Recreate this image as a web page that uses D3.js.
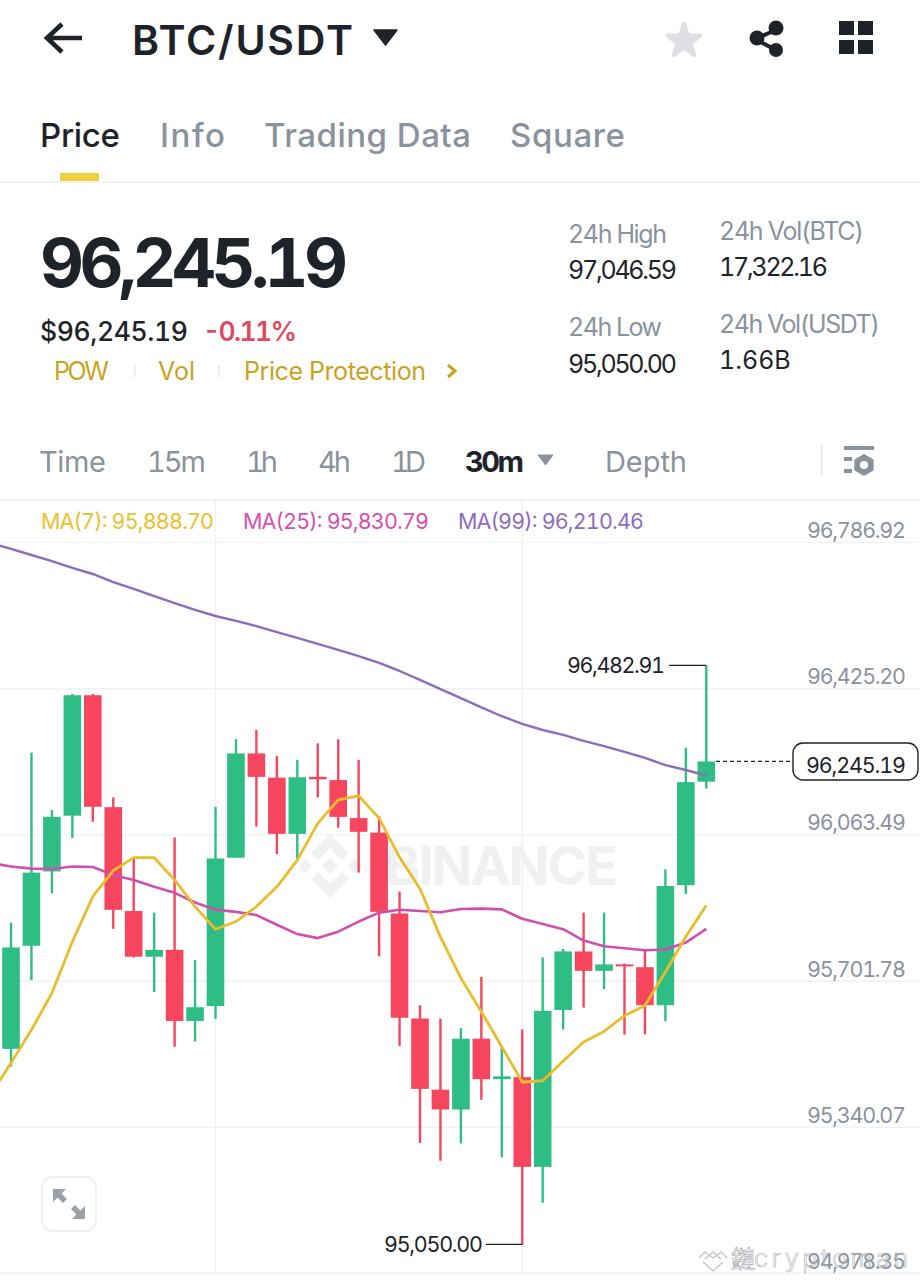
<!DOCTYPE html>
<html><head><meta charset="utf-8"><script src="https://d3js.org/d3.v7.min.js"></script>
<style>html,body{margin:0;padding:0;background:#fff}svg{display:block}text{font-family:Inter,Roboto,sans-serif;font-variant-numeric:tabular-nums}</style></head>
<body><div id="c"></div><script>
const candleIndex=d3.range(0,35);
const opens=[95534,95789,95973,96111,96409,96132,95875,95762,95779,95603,95640,96007,96265,96205,96066,96207,96199,96105,96069,95869,95609,95433,95384,95559,95459,95464,95242,95630,95775,95727,95743,95736,95642,95939,96195];
const highs=[95846,96267,96125,96412,96412,96156,96006,95871,96057,95754,96133,96300,96323,96259,96249,96290,96300,96249,96110,95923,95642,95609,95585,95712,95539,95582,95760,95781,95871,95871,95745,95778,95978,96279,96482.91];
const lows=[95490,95704,95919,96056,96096,95831,95760,95675,95539,95552,95608,96007,96084,96016,96001,96156,96081,95970,95763,95541,95301,95257,95300,95408,95266,95050,95153,95582,95636,95682,95569,95570,95602,95917,96178];
const closes=[95785,95970,96108,96409,96133,95878,95762,95779,95603,95637,96005,96265,96207,96066,96206,96201,96108,96071,95873,95611,95435,95384,95559,95459,95466,95242,95628,95775,95727,95743,95738,95642,95937,96194,96245.19];
const ma7=[95420,95499,95581,95672,95799,95911,95975,96007,96007,95952,95886,95830,95849,95886,95935,96001,96092,96150,96160,96105,96008,95930,95811,95709,95626,95539,95452,95455,95504,95551,95577,95616,95641,95724,95812,95888.70];
const ma25=[95994,95985,95980,95979,95985,95984,95964,95952,95935,95920,95896,95878,95873,95865,95841,95818,95808,95824,95849,95871,95878,95875,95872,95880,95881,95879,95856,95843,95830,95802,95788,95783,95778,95780,95797,95830.79];
const ma99=[96786,96771,96756,96741,96724,96709,96689,96672,96654,96637,96620,96605,96593,96580,96565,96551,96536,96521,96506,96489,96469,96447,96424,96402,96379,96357,96338,96323,96311,96296,96283,96269,96254,96236,96224,96210.46];
const axisTicks=[96786.92,96425.20,96063.49,95701.78,95340.07,94978.35];
const verticalGridIndex=[10,25];
const tabLabels=["Price","Info","Trading Data","Square"];
const intervalLabels=["Time","15m","1h","4h","1D","Depth"];

const tabX=[40,160,264,510],tabW=[80,65,207,115];
const intervalX=[39,147,246,318,391,605],intervalW=[67,59,32,33,35,82];
const W=920,H=1280;
const svg=d3.select("#c").append("svg").attr("width",W).attr("height",H).attr("viewBox",[0,0,W,H]);
const INK="#1e2329",GRAY="#8a929e",LINE="#f0f1f2",GREEN="#2ebd85",RED="#f6465d",GOLD="#c9a21f";
const x=d3.scaleLinear().domain([0,34]).range([11,706.3]);
const y=d3.scaleLinear().domain([96786.92,94978.35]).range([542.5,1273.4]);
const fmt=d3.format(",.2f");
function t(s,px,py,size,fill,weight,anchor){return svg.append("text").text(s).attr("x",px).attr("y",py).attr("font-size",size).attr("fill",fill).attr("font-weight",weight||400).attr("text-anchor",anchor||"start");}

/* header */
svg.append("path").attr("d","M82 38H48M62 24L47 38L62 52").attr("fill","none").attr("stroke",INK).attr("stroke-width",4.6);
t("BTC/USDT",132,55,41,INK,600).attr("textLength",221);
svg.append("path").attr("d","M374 30H397L385.5 45Z").attr("fill",INK).attr("stroke",INK).attr("stroke-width",1.5).attr("stroke-linejoin","round");
svg.append("path").attr("d",d3.symbol(d3.symbolStar,340)()).attr("transform","translate(684,41)").attr("fill","#dcdee1").attr("stroke","#dcdee1").attr("stroke-width",4).attr("stroke-linejoin","round");
svg.append("path").attr("d","M776 30L755 39L776 50").attr("fill","none").attr("stroke",INK).attr("stroke-width",4);
[[776,28,7.5],[757,38,7.5],[776,50,7]].forEach(c=>svg.append("circle").attr("cx",c[0]).attr("cy",c[1]).attr("r",c[2]).attr("fill",INK));
[[839,21],[858,21],[839,40],[858,40]].forEach(c=>svg.append("rect").attr("x",c[0]).attr("y",c[1]).attr("width",15).attr("height",14).attr("fill",INK));

/* tabs */
tabLabels.forEach((d,i)=>t(d,tabX[i],147,33,i?GRAY:INK,500).attr("textLength",tabW[i]));
svg.append("rect").attr("x",60).attr("y",173).attr("width",39).attr("height",8).attr("fill","#f0cf3c");
svg.append("rect").attr("x",0).attr("y",181.5).attr("width",W).attr("height",1.5).attr("fill","#eeeff0");

/* price block */
t("96,245.19",40,287,68,INK,700).attr("textLength",308);
t("$96,245.19",40,341,26.5,INK,500).attr("textLength",148);
t("-0.11%",203,341,26.5,"#dd4a5e",600).attr("textLength",94);
t("POW",54,380,25,GOLD).attr("textLength",55);
t("Vol",158,380,25,GOLD);
t("Price Protection",244,380,25,GOLD).attr("textLength",182);
[134,218].forEach(p=>svg.append("rect").attr("x",p).attr("y",365).attr("width",1.5).attr("height",12).attr("fill","#e8e8e8"));
svg.append("path").attr("d","M448 365L455 371L448 377").attr("fill","none").attr("stroke",GOLD).attr("stroke-width",3);
t("24h High",568,243,25,GRAY).attr("textLength",99);
t("97,046.59",568,279,25,INK).attr("textLength",109);
t("24h Low",568,336,25,GRAY).attr("textLength",94);
t("95,050.00",568,373,25,INK).attr("textLength",109);
t("24h Vol(BTC)",719,240,25,GRAY).attr("textLength",145);
t("17,322.16",719,276,25,INK).attr("textLength",109);
t("24h Vol(USDT)",719,333,25,GRAY).attr("textLength",161);
t("1.66B",719,369,25,INK);

/* interval row */
intervalLabels.forEach((d,i)=>t(d,intervalX[i],472,29,GRAY).attr("textLength",intervalW[i]));
t("30m",465,472,29,INK,700).attr("textLength",59);
svg.append("path").attr("d","M538 455H553L545.5 465Z").attr("fill",GRAY).attr("stroke",GRAY).attr("stroke-linejoin","round");
svg.append("rect").attr("x",821).attr("y",445).attr("width",1.5).attr("height",30).attr("fill","#e8e9ea");
svg.append("rect").attr("x",844).attr("y",446).attr("width",30).attr("height",4).attr("fill",GRAY);
[[844,457],[844,469]].forEach(c=>svg.append("rect").attr("x",c[0]).attr("y",c[1]).attr("width",8).attr("height",4).attr("fill",GRAY));
const hexR=10.5;
svg.append("path").attr("d",d3.line()(d3.range(6).map(i=>[864+hexR*Math.sin(i*Math.PI/3),465+hexR*Math.cos(i*Math.PI/3)]))+"Z").attr("fill",GRAY).attr("stroke",GRAY).attr("stroke-linejoin","round");
svg.append("circle").attr("cx",864).attr("cy",465).attr("r",4).attr("fill","#fff");

/* chart frame */
svg.append("rect").attr("x",0).attr("y",499).attr("width",W).attr("height",1.5).attr("fill","#eeeff0");
const grid=svg.append("g");
grid.selectAll("line.h").data(axisTicks).join("line").attr("class","h").attr("x1",0).attr("x2",W).attr("y1",d=>y(d)).attr("y2",d=>y(d)).attr("stroke",LINE).attr("stroke-width",1.4);
grid.selectAll("line.v").data(verticalGridIndex).join("line").attr("class","v").attr("x1",d=>x(d)).attr("x2",d=>x(d)).attr("y1",500).attr("y2",1273).attr("stroke",LINE).attr("stroke-width",1.4);

/* background watermark */
const wm=svg.append("g").attr("transform","translate(330,866)").attr("fill","#eff0f1");
wm.append("path").attr("d","M0 -32L19 -13L12 -6L0 -18L-12 -6L-19 -13Z M0 32L19 13L12 6L0 18L-12 6L-19 13Z M-25 -7L-18 0L-25 7L-32 0Z M25 -7L32 0L25 7L18 0Z M0 -8L8 0L0 8L-8 0Z");
t("BINANCE",385,885,54,"#eff0f1",700).attr("textLength",233);

/* axis labels */
const axis=d3.axisRight(y).tickValues(axisTicks).tickFormat(fmt).tickSize(0).tickPadding(0);
const ag=svg.append("g").attr("transform","translate(807,-5)").call(axis);
ag.select(".domain").remove();
ag.selectAll("text").attr("font-size",21.5).attr("fill",GRAY).attr("dy",0).attr("textLength",99).style("font-family","Inter,Roboto,sans-serif");

/* legend */
t("MA(7): "+fmt(ma7[ma7.length-1]),41,529,21.5,"#e9c12d").attr("textLength",173);
t("MA(25): "+fmt(ma25[ma25.length-1]),243,529,21.5,"#d64fb0").attr("textLength",186);
t("MA(99): "+fmt(ma99[ma99.length-1]),458,529,21.5,"#8e6cbc").attr("textLength",186);

/* candles */
const rows=candleIndex.map(i=>({i,o:opens[i],h:highs[i],l:lows[i],c:closes[i]}));
const g=svg.append("g");
const col=d=>d.c>=d.o?GREEN:RED;
g.selectAll("line").data(rows).join("line").attr("x1",d=>x(d.i)).attr("x2",d=>x(d.i)).attr("y1",d=>y(d.h)).attr("y2",d=>y(d.l)).attr("stroke",col).attr("stroke-width",2.4);
g.selectAll("rect").data(rows).join("rect").attr("x",d=>x(d.i)-8.8).attr("width",17.6).attr("y",d=>y(Math.max(d.o,d.c))).attr("height",d=>Math.max(2,Math.abs(y(d.o)-y(d.c)))).attr("fill",col);

/* moving averages: each series starts one bar left of the first candle */
const line=d3.line().x((d,i)=>x(i-1)).y(d=>y(d));
svg.append("clipPath").attr("id","cp").append("rect").attr("x",0).attr("y",500).attr("width",W).attr("height",780);
[[ma99,"#8e6cbc",2.4],[ma25,"#cf4fae",2.6],[ma7,"#e8bc2c",2.8]].forEach(s=>svg.append("path").attr("clip-path","url(#cp)").attr("d",line(s[0])).attr("fill","none").attr("stroke",s[1]).attr("stroke-width",s[2]).attr("stroke-linejoin","round"));

/* high / low annotations */
const hi=d3.max(highs),lo=d3.min(lows);
const hiI=highs.indexOf(hi),loI=lows.indexOf(lo);
t(fmt(hi),665,y(hi)+8,21.5,INK,400,"end").attr("textLength",98);
svg.append("line").attr("x1",669).attr("x2",x(hiI)).attr("y1",y(hi)).attr("y2",y(hi)).attr("stroke",INK).attr("stroke-width",1.3);
t(fmt(lo),483,y(lo)+8,21.5,INK,400,"end").attr("textLength",99);
svg.append("line").attr("x1",486).attr("x2",x(loI)).attr("y1",y(lo)).attr("y2",y(lo)).attr("stroke",INK).attr("stroke-width",1.3);

/* last price */
const last=closes[closes.length-1];
svg.append("line").attr("x1",716).attr("x2",792).attr("y1",y(last)).attr("y2",y(last)).attr("stroke",INK).attr("stroke-width",1.2).attr("stroke-dasharray","4 3");
svg.append("rect").attr("x",793).attr("y",743).attr("width",125).attr("height",37).attr("rx",10).attr("fill","#fff").attr("stroke",INK).attr("stroke-width",1.4);
t(fmt(last),806,773,21.5,INK).attr("textLength",100);

/* expand button */
svg.append("rect").attr("x",42).attr("y",1177).attr("width",54).attr("height",54).attr("rx",10).attr("fill","#fff").attr("stroke","#eeeff0").attr("stroke-width",2);
svg.append("path").attr("d","M53 1189H66L61.5 1193.5L67 1199L63 1203L57.5 1197.5L53 1202Z M85 1219H72L76.5 1214.5L71 1209L75 1205L80.5 1210.5L85 1206Z").attr("fill","#9aa1ab");

/* bottom rule and corner watermark */
svg.append("rect").attr("x",0).attr("y",1272.8).attr("width",W).attr("height",1.4).attr("fill",LINE);
const cw=svg.append("g").attr("fill","none").attr("stroke","#bcc0c5").attr("stroke-width",1.1);
cw.append("path").attr("d","M699 1258L705 1252L713 1258L721 1252L727 1258M705 1259L713 1252M721 1259L713 1252M703 1262L713 1271L723 1262");
t("鏈",731,1268,24,"none").attr("stroke","#a9adb3").attr("stroke-width",.7).style("font-family","'Noto Sans CJK TC'");
t("cryptoman",754,1267,25,"none",300).attr("stroke","#b5b8bd").attr("stroke-width",.7).attr("textLength",154);
</script></body></html>
